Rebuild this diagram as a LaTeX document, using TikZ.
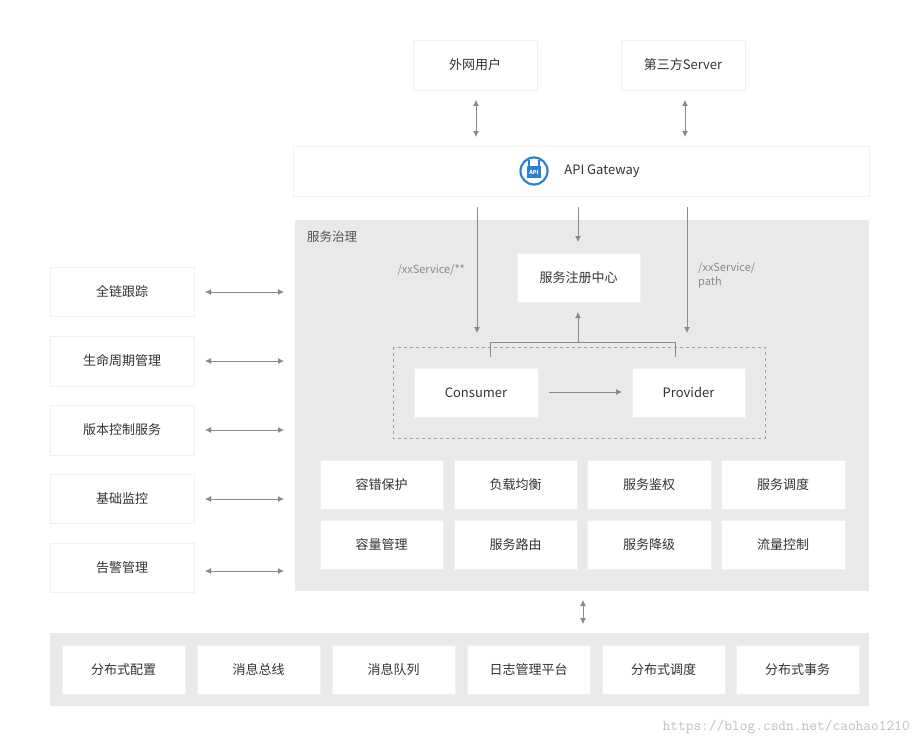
\documentclass[tikz,border=0pt]{standalone}
\usepackage{fontspec}
\setmainfont{Noto Sans CJK SC}
\usetikzlibrary{shadows,arrows.meta}
\definecolor{txt}{HTML}{333333}
\definecolor{reg}{HTML}{E9E9EB}
\definecolor{ar}{HTML}{8A8A8A}
\definecolor{bl}{HTML}{2E7FD6}
\tikzset{
 bx/.style={draw=black!6,line width=0.4pt,fill=white,drop shadow={shadow xshift=0.8pt,shadow yshift=-1.2pt,opacity=0.45,fill=black!45},font=\fontsize{13}{15}\selectfont,text=txt,inner sep=0},
 ar/.style={draw=ar,line width=0.8pt,-{Latex[length=6pt,width=6pt]}},
 ln/.style={draw=ar,line width=0.8pt},
 dar/.style={draw=ar,line width=0.8pt,{Latex[length=6pt,width=6pt]}-{Latex[length=6pt,width=6pt]}},
 lbl/.style={text=ar,font=\fontsize{11}{14}\selectfont,inner sep=0}
}
\begin{document}
\begin{tikzpicture}[x=1pt,y=-1pt]
\def\bxat#1#2#3#4#5#6{\node[bx,minimum width=#3-#1,minimum height=#4-#2] (#5) at ({(#1+#3)/2},{(#2+#4)/2}) {#6};}
\useasboundingbox[fill=white] (0,0) rectangle (920,746);
\fill[reg] (295,220) rectangle (869,591);
\fill[reg] (50,633) rectangle (869,706);
\node[anchor=west,text=txt!85,font=\fontsize{12.5}{14}\selectfont,inner sep=0] (gov) at (307,237) {服务治理};
\bxat{413}{40}{537}{90}{ext}{外网用户}
\bxat{621}{40}{745}{90}{third}{第三方Server}
\bxat{293}{146}{869}{196}{gw}{\hspace*{42pt}API Gateway}
\draw[bl,line width=2.2pt] (534,171) circle (13.5);
\fill[bl] (527,166) rectangle (541,178);
\fill[bl] (528,160) rectangle (530,166);\fill[bl] (538,160) rectangle (540,166);
\node[text=white,font=\fontsize{5.5}{5}\bfseries\selectfont,inner sep=0] (icon) at (534,172.5) {API};
\draw[dar] (476,100) -- (476,137);
\draw[dar] (685,100) -- (685,137);
\bxat{517}{253}{640}{302}{reg}{服务注册中心}
\draw[ar] (477,207) -- (477,333);
\draw[ar] (578,207) -- (578,242);
\draw[ar] (687,207) -- (687,333);
\node[lbl,anchor=east] (l1) at (465,270) {/xxService/**};
\node[lbl,anchor=north west,align=left] (l2) at (698,263) {/xxService/\\path};
\draw[dashed,draw=ar!80,line width=0.7pt] (393,347) rectangle (765,438);
\draw[ln] (490,357) -- (490,342) -- (675,342) -- (675,357);
\draw[ar] (578,342) -- (578,312);
\bxat{414}{368}{538}{417}{cons}{Consumer}
\bxat{632}{368}{745}{417}{prov}{Provider}
\draw[ar] (549,392) -- (622,392);
\bxat{320}{460}{443}{509}{g1}{容错保护}
\bxat{454}{460}{577}{509}{g2}{负载均衡}
\bxat{587}{460}{711}{509}{g3}{服务鉴权}
\bxat{721}{460}{845}{509}{g4}{服务调度}
\bxat{320}{520}{443}{569}{g5}{容量管理}
\bxat{454}{520}{577}{569}{g6}{服务路由}
\bxat{587}{520}{711}{569}{g7}{服务降级}
\bxat{721}{520}{845}{569}{g8}{流量控制}
\bxat{50}{267}{194}{316}{s1}{全链跟踪}
\bxat{50}{336}{194}{386}{s2}{生命周期管理}
\bxat{50}{405}{194}{455}{s3}{版本控制服务}
\bxat{50}{474}{194}{523}{s4}{基础监控}
\bxat{50}{543}{194}{592}{s5}{告警管理}
\foreach \y in {292,361,430,499,571} \draw[dar] (205,\y) -- (284,\y);
\draw[dar] (583,600) -- (583,624);
\bxat{62}{645}{185}{694}{b1}{分布式配置}
\bxat{197}{645}{320}{694}{b2}{消息总线}
\bxat{332}{645}{455}{694}{b3}{消息队列}
\bxat{467}{645}{590}{694}{b4}{日志管理平台}
\bxat{602}{645}{725}{694}{b5}{分布式调度}
\bxat{736}{645}{859}{694}{b6}{分布式事务}
\node[anchor=east,text=black!25,font=\fontsize{15}{15}\ttfamily,inner sep=0] (wm) at (910,727) {https://blog.csdn.net/caohao1210};
\end{tikzpicture}
\end{document}
